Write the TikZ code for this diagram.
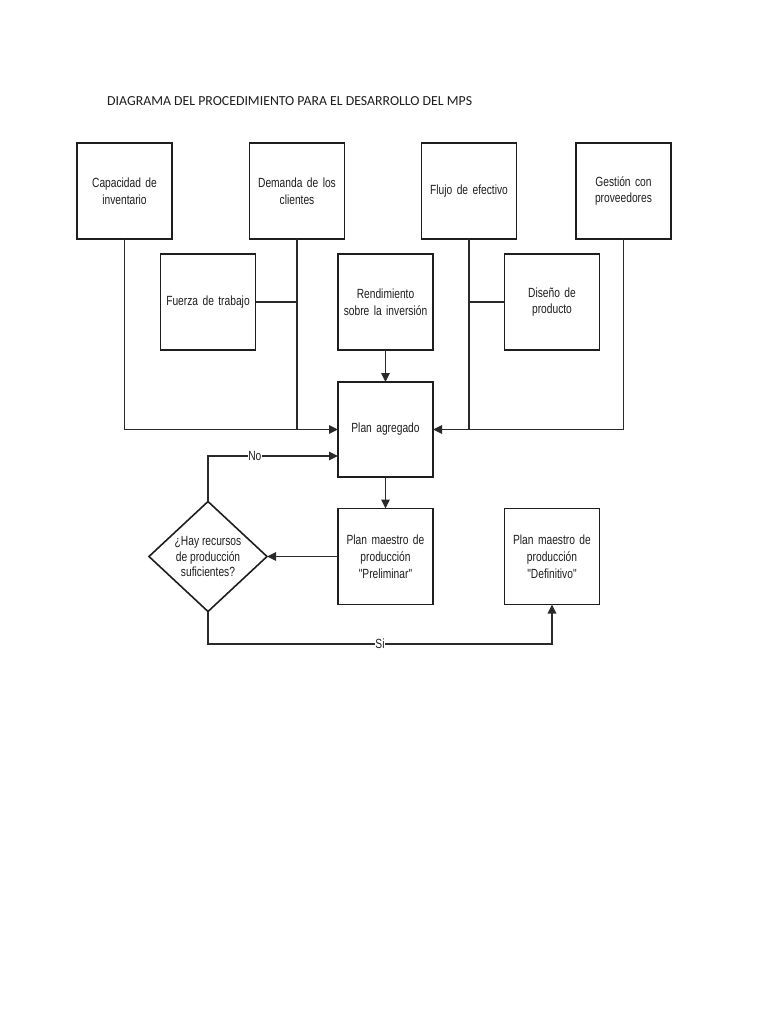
\documentclass[tikz,border=0pt]{standalone}
\usepackage{fontspec}
\setmainfont{Liberation Sans}
\newfontfamily\boxfont[FakeStretch=0.77]{Liberation Sans}
\newfontfamily\titlefont{Carlito}
\usetikzlibrary{arrows.meta,shapes.geometric,calc}
\definecolor{ink}{HTML}{1E1E1E}
\definecolor{wire}{HTML}{2A2A2A}
\newcommand{\bxf}[1]{\boxfont\fontsize{13.3}{#1}\selectfont\spaceskip=2.9pt plus 0.3pt minus 0.3pt\relax}
\tikzset{
  boxnode/.style={draw=ink, line width=1.8pt, minimum width=95pt, minimum height=96pt,
    inner sep=2pt, outer sep=0pt, align=center, text=ink,
    font=\bxf{16.8}, text width=88pt},
  decide/.style={draw=ink, line width=1.6pt, diamond, minimum width=118pt, minimum height=110pt,
    inner sep=0pt, outer sep=0pt, align=center, text=ink,
    font=\bxf{15.3}},
  wireline/.style={draw=wire, line width=1.3pt},
  arr/.style={wireline, -{Triangle[length=9pt,width=8.5pt]}},
  lbl/.style={fill=white, inner sep=0.5pt, text=ink, font=\bxf{14}}
}
\begin{document}
\begin{tikzpicture}[x=1pt,y=-1pt]
\useasboundingbox (0,0) rectangle (768,1024);
\fill[white] (0,0) rectangle (768,1024);

\node[anchor=west, text=ink, font=\titlefont\fontsize{13.8}{16}\selectfont, inner sep=0pt] (title) at (107,101) {DIAGRAMA DEL PROCEDIMIENTO PARA EL DESARROLLO DEL MPS};

\node[boxnode] (cap) at (124.5,191) {Capacidad de\\inventario};
\node[boxnode] (dem) at (297,191) {Demanda de los\\clientes};
\node[boxnode] (flu) at (469,191) {Flujo de efectivo};
\node[boxnode] (ges) at (623.5,191) {Gestión con\\proveedores};
\node[boxnode] (fue) at (208,302) {Fuerza de trabajo};
\node[boxnode] (ren) at (385.5,302) {Rendimiento\\sobre la inversión};
\node[boxnode] (dis) at (552,302) {Diseño de\\producto};
\node[boxnode, minimum height=95pt] (pla) at (385.5,429.5) {Plan agregado};
\node[boxnode] (pre) at (385.5,556.5) {Plan maestro de\\producción\\"Preliminar"};
\node[boxnode] (def) at (552,556.5) {Plan maestro de\\producción\\"Definitivo"};
\node[decide] (dec) at (208,556.5) {¿Hay recursos\\de producción\\suficientes?};

\coordinate (nolvl) at (0,456);
\coordinate (silvl) at (0,644);

% left feeders
\draw[arr] (cap.south) |- (pla.west);
\draw[wireline] (dem.south) -- (dem.south |- pla.west);
\draw[wireline] (fue.east) -- (dem.south |- fue.east);
% right feeders
\draw[arr] (ges.south) |- (pla.east);
\draw[wireline] (flu.south) -- (flu.south |- pla.east);
\draw[wireline] (dis.west) -- (flu.south |- dis.west);
% centre
\draw[arr] (ren.south) -- (pla.north);
\draw[arr] (pla.south) -- (pre.north);
\draw[arr] (pre.west) -- (dec.east);
% No loop
\draw[arr] (dec.north) |- node[lbl, pos=0.68] {No} (pla.west |- nolvl);
% Si path
\draw[arr] (dec.south) -- (dec.south |- silvl) -- node[lbl] {Si} (def.south |- silvl) -- (def.south);
\end{tikzpicture}
\end{document}
